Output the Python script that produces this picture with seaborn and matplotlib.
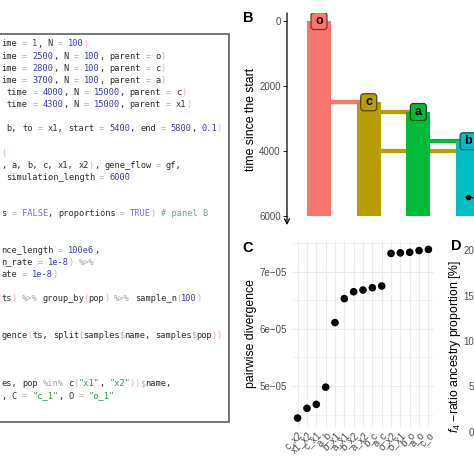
import re
import numpy as np
import pandas as pd
import matplotlib
matplotlib.use("Agg")
import matplotlib.pyplot as plt
from matplotlib.patches import Rectangle, FancyBboxPatch
from matplotlib.ticker import FuncFormatter, AutoMinorLocator
import matplotlib.colors as mcolors
import seaborn as sns

# ---------------- data ----------------
code_lines = [
    'ime = 1, N = 100)',
    'ime = 2500, N = 100, parent = o)',
    'ime = 2800, N = 100, parent = c)',
    'ime = 3700, N = 100, parent = a)',
    ' time = 4000, N = 15000, parent = c)',
    ' time = 4300, N = 15000, parent = x1)',
    '',
    ' b, to = x1, start = 5400, end = 5800, 0.1)',
    '',
    '(',
    ', a, b, c, x1, x2), gene_flow = gf,',
    ' simulation_length = 6000',
    '',
    '',
    's = FALSE, proportions = TRUE) # panel B',
    '',
    '',
    'nce_length = 100e6,',
    'n_rate = 1e-8) %>%',
    'ate = 1e-8)',
    '',
    'ts) %>% group_by(pop) %>% sample_n(100)',
    '',
    '',
    'gence(ts, split(samples$name, samples$pop))',
    '',
    '',
    '',
    'es, pop %in% c("x1", "x2"))$name,',
    ', C = "c_1", O = "o_1"',
]

pops = ["o", "c", "a", "b", "x1", "x2"]
pop_parent = [None, "o", "c", "a", "c", "x1"]
pop_time = [1, 2500, 2800, 3700, 4000, 4300]
sim_length = 6000
gf_from, gf_to = "b", "x1"
gf_start, gf_end = 5400, 5800
pop_colors = ["#F8766D", "#B79F00", "#00BA38", "#00BFC4", "#619CFF", "#F564E3"]
time_ticks = [0, 2000, 4000, 6000]

pair_labels = ["c_x2", "x1_x2", "c_x1", "a_b", "b_x1", "a_x1", "b_x2", "a_x2",
               "b_c", "a_c", "o_x2", "o_x1", "b_o", "a_o", "c_o"]
divergence = [4.44e-5, 4.61e-5, 4.68e-5, 4.98e-5, 6.11e-5, 6.53e-5, 6.65e-5, 6.68e-5,
              6.72e-5, 6.75e-5, 7.32e-5, 7.33e-5, 7.34e-5, 7.37e-5, 7.39e-5]
div_ticks = [5e-5, 6e-5, 7e-5]
f4_ticks = [0, 5, 10, 15, 20]

# ---------------- style ----------------
sns.set_theme(style="white")
plt.rcParams["font.family"] = ["Liberation Sans", "DejaVu Sans"]
plt.rcParams["mathtext.fontset"] = "custom"
plt.rcParams["mathtext.it"] = "Liberation Sans:italic"
plt.rcParams["mathtext.rm"] = "Liberation Sans"

W = H = 474
fig = plt.figure(figsize=(4.74, 4.74), dpi=100)
fig.patch.set_facecolor("white")


def fx(px):
    return px / W


def fy(py):
    return 1 - py / H


def axes_px(left, top, right, bottom):
    return [fx(left), fy(bottom), (right - left) / W, (bottom - top) / H]


TICK_GRAY = "#4D4D4D"

# ---------------- code panel (A) ----------------
fig.patches.append(Rectangle((fx(-10), fy(422)), 239 / W, (422 - 34) / H,
                             transform=fig.transFigure, facecolor="white",
                             edgecolor="#767676", lw=1.4, zorder=0))

tok_re = re.compile(
    r'(?P<comment>#.*)|(?P<string>"[^"]*")|(?P<bool>\b(?:TRUE|FALSE)\b)'
    r'|(?P<num>(?<![A-Za-z_\d])\d+(?:\.\d+)?(?:e-?\d+)?)'
    r'|(?P<pipe>%[a-z>]+%)|(?P<op>[=$])|(?P<paren>[()])'
    r'|(?P<other>[A-Za-z_.,\d]+|\S)')
tok_colors = {
    "comment": "#6aa68a", "string": "#3f9050", "bool": "#7474cc",
    "num": "#3c3cb4", "pipe": "#a9a9a9", "op": "#b0b0b0",
    "paren": "#e8a3b3", "other": "#2e2e2e",
}
x0, cw, y0, lh = 1.5, 5.13, 44.0, 12.14
for i, line in enumerate(code_lines):
    for m in tok_re.finditer(line):
        kind = m.lastgroup
        fig.text(fx(x0 + m.start() * cw), fy(y0 + i * lh), m.group(0),
                 family="DejaVu Sans Mono", fontsize=6.2,
                 color=tok_colors[kind], ha="left", va="center")

# ---------------- panel B ----------------
B_LEFT, B_RIGHT, B_TOP, B_BOTTOM = 287, 474, 12.9, 225.1
axB = fig.add_axes(axes_px(B_LEFT, B_TOP, B_RIGHT, B_BOTTOM))
xpos = np.arange(len(pops))
heights = [sim_length - t for t in pop_time]
axB.bar(xpos, heights, bottom=pop_time, width=0.48, color=pop_colors,
        zorder=2, linewidth=0)
for i, p in enumerate(pops):
    par = pop_parent[i]
    if par is not None:
        j = pops.index(par)
        axB.plot([j, i], [pop_time[i], pop_time[i]], color=pop_colors[j],
                 lw=3.1, solid_capstyle="butt", zorder=1)

unit_px = 49.7   # pixels per category
xlimB = (-(319 - B_LEFT) / unit_px, (B_RIGHT - 319) / unit_px)
ylimB = (6280, -250)
axB.set_xlim(*xlimB)
axB.set_ylim(*ylimB)
ux = (xlimB[1] - xlimB[0]) / (B_RIGHT - B_LEFT)
uy = (ylimB[0] - ylimB[1]) / (B_BOTTOM - B_TOP)

# gene flow
i_from, i_to = pops.index(gf_from), pops.index(gf_to)
axB.plot([i_from, i_to], [gf_start, gf_end], color="black", lw=0.8, zorder=5)
axB.scatter([i_from], [gf_start], s=9, color="black", zorder=6)

# population labels (only those whose anchor lies inside the visible crop)
bw, bh = 16 * ux, 17 * uy
for i, p in enumerate(pops):
    if i > xlimB[1]:
        continue
    fc = pop_colors[i]
    ec = tuple(np.array(mcolors.to_rgb(fc)) * 0.45)
    box = FancyBboxPatch((i - bw / 2, pop_time[i] - bh / 2), bw, bh,
                         boxstyle=f"round,pad=0,rounding_size={3 * ux}",
                         mutation_aspect=uy / ux, facecolor=fc, edgecolor=ec,
                         lw=0.9, zorder=7)
    axB.add_patch(box)
    axB.text(i, pop_time[i], p, ha="center", va="center", fontsize=9,
             fontweight="bold", color="black", zorder=8, clip_on=True)

for s in axB.spines.values():
    s.set_visible(False)
axB.set_xticks([])
axB.set_yticks(time_ticks)
axB.set_yticklabels([str(t) for t in time_ticks])
axB.tick_params(axis="y", length=3, width=0.6, color="black", pad=1.5,
                labelsize=7, labelcolor=TICK_GRAY, left=True)
axB.annotate("", xy=(0, 0), xytext=(0, 1), xycoords="axes fraction",
             textcoords="axes fraction",
             arrowprops=dict(arrowstyle="->", lw=0.9, color="black",
                             shrinkA=0, shrinkB=0, mutation_scale=9))
axB.set_ylabel("time since the start", fontsize=8.8, color="black")
axB.yaxis.set_label_coords((257.5 - B_LEFT) / (B_RIGHT - B_LEFT), 0.5)
axB.set_facecolor("none")

# ---------------- panel C ----------------
axC = fig.add_axes(axes_px(292, 241, 434, 426.5))
dfC = pd.DataFrame({"pair": pair_labels, "divergence": divergence})
sns.scatterplot(data=dfC, x="pair", y="divergence", ax=axC, color="black",
                s=30, edgecolor="none", zorder=3, legend=False)
axC.set_xlim(-0.6, len(pair_labels) - 0.4)
rng = max(divergence) - min(divergence)
axC.set_ylim(min(divergence) - 0.05 * rng, max(divergence) + 0.05 * rng)
axC.set_yticks(div_ticks)
axC.yaxis.set_minor_locator(AutoMinorLocator(2))
axC.yaxis.set_major_formatter(
    FuncFormatter(lambda v, _: f"{v:.0e}".replace("-", "\u2212")))
axC.set_axisbelow(True)
axC.grid(True, which="major", color="#EBEBEB", lw=0.8)
axC.grid(True, which="minor", axis="y", color="#EBEBEB", lw=0.45)
for s in axC.spines.values():
    s.set_visible(False)
axC.tick_params(axis="both", which="both", length=0, labelsize=7,
                labelcolor=TICK_GRAY)
axC.tick_params(axis="y", pad=3.6)
axC.tick_params(axis="x", pad=2.5)
plt.setp(axC.get_xticklabels(), rotation=45, ha="right",
         rotation_mode="anchor")
axC.set_xlabel("")
axC.set_ylabel("pairwise divergence", fontsize=8.8, color="black")
axC.yaxis.set_label_coords((257 - 292) / (434 - 292), 0.5)
axC.set_facecolor("white")

# ---------------- panel D (mostly outside the crop) ----------------
axD = fig.add_axes(axes_px(478, 241, 578, 441))
axD.set_ylim(-1, 21)
axD.set_xlim(0, 1)
axD.set_yticks(f4_ticks)
axD.set_xticks([])
axD.tick_params(axis="y", length=0, pad=2.9, labelsize=7, labelcolor=TICK_GRAY)
for s in axD.spines.values():
    s.set_visible(False)
axD.set_ylabel("$f_4$ \u2212ratio ancestry proportion [%]",
               fontsize=8.8, color="black")
axD.yaxis.set_label_coords((463 - 478) / 100, 0.475)

# ---------------- panel tags ----------------
for tag, (px, py) in {"B": (248.5, 18), "C": (248, 247.5), "D": (456.5, 246)}.items():
    fig.text(fx(px), fy(py), tag, fontsize=10.5, fontweight="bold",
             ha="center", va="center", color="black")

fig.savefig("out.png", dpi=100, facecolor="white")
